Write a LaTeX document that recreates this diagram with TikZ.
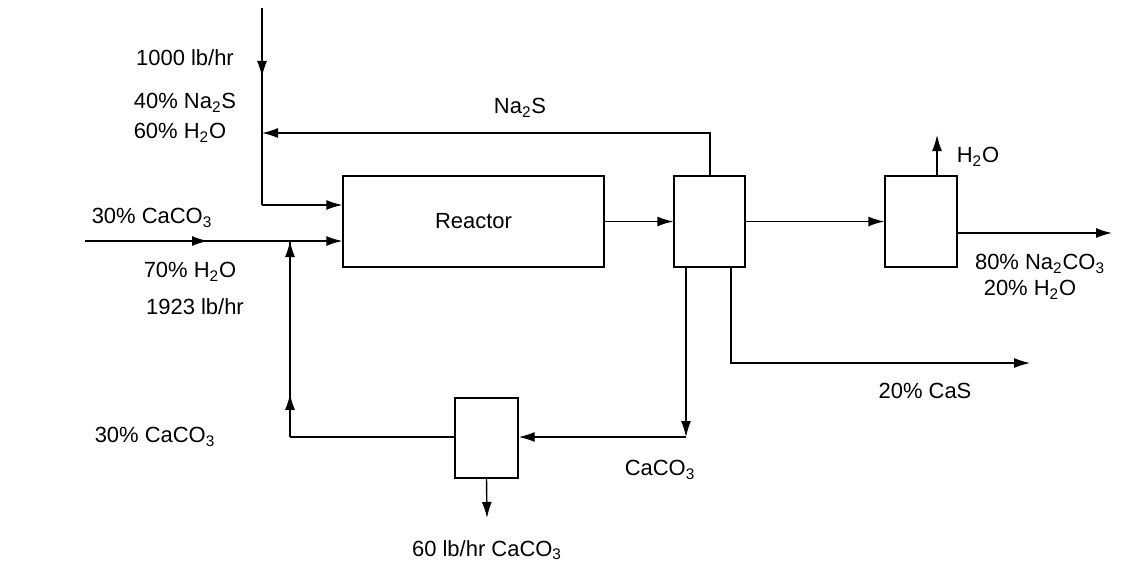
\documentclass[tikz,border=0pt]{standalone}
\usepackage{fontspec}
\setmainfont{Liberation Sans}
\usetikzlibrary{arrows.meta, positioning, decorations.markings}
\newcommand{\sub}[1]{\textsubscript{#1}}
\begin{document}
\begin{tikzpicture}[x=0.02cm, y=-0.02cm,
      font=\fontsize{12.5}{15}\selectfont,
      box/.style={draw, thick, inner sep=0pt},
      flow/.style={thick, -{Latex[length=3.2mm, width=2mm]}},
      midarr/.style={thick, postaction=decorate, decoration={markings,
        mark=at position #1 with {\arrow{Latex[length=3.2mm, width=2mm]}}}}]
      \useasboundingbox (0,0) rectangle (1141,585);
      % units
      \node[box, minimum width=5.22cm, minimum height=1.82cm] (reactor) at (473.5,221.5) {Reactor};
      \node[box, minimum width=1.42cm, minimum height=1.82cm] (sep) at (709.5,221.5) {};
      \node[box, minimum width=1.44cm, minimum height=1.82cm] (dryer) at (921,221.5) {};
      \node[box, minimum width=1.26cm, minimum height=1.6cm] (filter) at (486.5,438) {};
      % points
      \coordinate (feedtop) at (262,8);
      \coordinate (feedA) at (262,205);
      \coordinate (nasA) at (710,133);
      \coordinate (nasB) at (262,133);
      \coordinate (caIn) at (85,241);
      \coordinate (caJ) at (290,241);
      \coordinate (recA) at (290,437);
      \coordinate (sepB1) at (686,437);
      \coordinate (sepB2) at (731,363);
      \coordinate (casOut) at (1030,363);
      \coordinate (prodOut) at (1112,233);
      \coordinate (h2oOut) at (937,135);
      \coordinate (solidOut) at (487,518);
      % flows
      \draw[midarr=0.35] (feedtop) -- (feedA);
      \draw[flow] (feedA) -- (feedA -| reactor.west);
      \draw[flow] (sep.north -| nasA) -- (nasA) -- (nasB);
      \draw[midarr=0.6] (caIn) -- (caJ);
      \draw[flow] (caJ) -- (caJ -| reactor.west);
      \draw[thick] (filter.west |- recA) -- (recA);
      \draw[midarr=0.22] (recA) -- (caJ);
      \draw[flow] (recA) ++(0,-170) -- (caJ);
      \draw[flow] (reactor.east) -- (sep.west);
      \draw[flow] (sep.east) -- (dryer.west);
      \draw[flow] (dryer.east |- prodOut) -- (prodOut);
      \draw[flow] (dryer.north -| h2oOut) -- (h2oOut);
      \draw[flow] (sep.south -| sepB1) -- (sepB1);
      \draw[flow] (sepB1) -- (filter.east |- sepB1);
      \draw[flow] (sep.south -| sepB2) -- (sepB2) -- (casOut);
      \draw[flow] (filter.south) -- (solidOut);
      % labels
      \node (l1) at (185,58) {1000 lb/hr};
      \node (l2) at (185,103) {40\% Na\sub{2}S};
      \node (l3) at (180,133) {60\% H\sub{2}O};
      \node (l4) at (520,108) {Na\sub{2}S};
      \node (l5) at (978,157) {H\sub{2}O};
      \node (l6) at (152,218) {30\% CaCO\sub{3}};
      \node (l7) at (190,272) {70\% H\sub{2}O};
      \node (l8) at (195,307) {1923 lb/hr};
      \node (l9) at (1040,264) {80\% Na\sub{2}CO\sub{3}};
      \node (l10) at (1030,290) {20\% H\sub{2}O};
      \node (l11) at (925,391) {20\% CaS};
      \node (l12) at (155,437) {30\% CaCO\sub{3}};
      \node (l13) at (660,470) {CaCO\sub{3}};
      \node (l14) at (487,550) {60 lb/hr CaCO\sub{3}};
\end{tikzpicture}
\end{document}
